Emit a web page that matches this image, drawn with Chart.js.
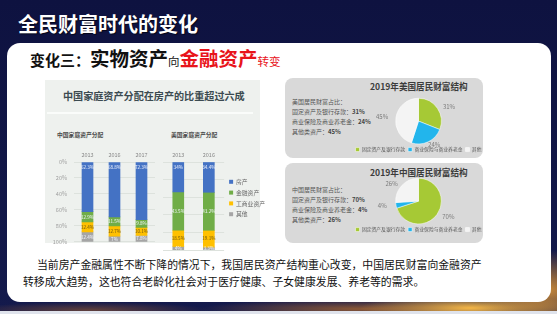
<!DOCTYPE html>
<html>
<head>
<meta charset="utf-8">
<script src="https://cdn.jsdelivr.net/npm/chart.js@4/dist/chart.umd.min.js"></script>
<style>
  body { margin: 0; width: 557px; height: 314px; overflow: hidden; position: relative;
    font-family: "Noto Sans CJK SC", sans-serif;
    background:
      radial-gradient(ellipse 70px 40px at 548px 290px, rgba(255,170,50,0.75), rgba(255,170,50,0) 100%),
      radial-gradient(ellipse 110px 14px at 470px 308px, rgba(255,190,70,0.95), rgba(255,150,40,0) 100%),
      radial-gradient(ellipse 160px 10px at 360px 309px, rgba(220,130,40,0.6), rgba(220,130,40,0) 100%),
      radial-gradient(ellipse 120px 8px at 90px 310px, rgba(190,110,40,0.45), rgba(190,110,40,0) 100%),
      linear-gradient(#0e1240, #141a4c);
  }
  .abs { position: absolute; }
  #strip { left: 0; top: 311px; width: 557px; height: 3px; background: #dfe3ec; }
  #title { left: 18px; top: 13px; font-size: 20px; line-height: 22px; font-weight: bold; color: #fff;
    text-shadow: 1px 1px 1px rgba(0,0,0,0.6); }
  #panel { left: 7px; top: 43px; width: 544px; height: 259px; background: #fff; border-radius: 13px; }
  #sub { left: 30px; top: 47px; white-space: nowrap; line-height: 22px; font-weight: bold; color: #111; }
  #sub .a { font-size: 15px; }
  #sub .b { font-size: 19.5px; }
  #sub .c { font-size: 11.5px; font-weight: normal; }
  #sub .r { color: #e8141b; }
  #pic { left: 45px; top: 80px; width: 215px; height: 163px; background: #eef1ee; }
  #picTitle { left: 63px; top: 89px; font-size: 10.1px; line-height: 14px; font-weight: bold; color: #3b4a50; white-space: nowrap; }
  #rule { left: 47px; top: 112px; width: 206px; height: 2px; background: #fafcfa; }
  .grp { font-size: 5.8px; line-height: 8px; font-weight: bold; color: #4a4a4a; white-space: nowrap; }
  .box { width: 198px; height: 80px; background: #d9d9d9; border-radius: 8px; left: 285px; }
  .boxTitle { font-size: 8.6px; line-height: 10px; font-weight: bold; color: #3c3c3c; white-space: nowrap; }
  .boxText { font-size: 6px; line-height: 10px; color: #555; white-space: nowrap; }
  .boxText b { color: #444; }
  #note { left: 23px; top: 256px; font-size: 10.85px; line-height: 17px; color: #111; white-space: nowrap; }
</style>
</head>
<body>
<div class="abs" id="strip"></div>
<div class="abs" id="title">全民财富时代的变化</div>
<div class="abs" id="panel"></div>
<div class="abs" id="sub"><span class="a">变化三：</span><span class="b">实物资产</span><span class="c">向</span><span class="b r">金融资产</span><span class="c r">转变</span></div>

<div class="abs" id="pic"></div>
<div class="abs" id="picTitle">中国家庭资产分配在房产的比重超过六成</div>
<div class="abs" id="rule"></div>
<div class="abs grp" style="left:57px; top:131px;">中国家庭资产分配</div>
<div class="abs grp" style="left:171px; top:131px;">美国家庭资产分配</div>
<canvas class="abs" id="cnBars" width="105" height="106" style="left:50px; top:146px;"></canvas>
<canvas class="abs" id="usBars" width="120" height="106" style="left:155px; top:146px;"></canvas>

<div class="abs box" style="top:78px;"></div>
<div class="abs boxTitle" style="left:370px; top:81px;">2019年美国居民财富结构</div>
<div class="abs boxText" style="left:292px; top:97px;">美国居民财富占比：<br>固定资产及银行存款：<b>31%</b><br>商业保险及商业养老金：<b>24%</b><br>其他类资产：<b>45%</b></div>
<canvas class="abs" id="usPie" width="133" height="66" style="left:352px; top:96px;"></canvas>

<div class="abs box" style="top:163px;"></div>
<div class="abs boxTitle" style="left:370px; top:167px;">2019年中国居民财富结构</div>
<div class="abs boxText" style="left:292px; top:185px;">中国居民财富占比：<br>固定资产及银行存款：<b>70%</b><br>商业保险及商业养老金：<b>4%</b><br>其他类资产：<b>26%</b></div>
<canvas class="abs" id="cnPie" width="133" height="66" style="left:352px; top:176px;"></canvas>

<div class="abs" id="note"><span style="padding-left:14px;"></span>当前房产金融属性不断下降的情况下，我国居民资产结构重心改变，中国居民财富向金融资产<br>转移成大趋势，这也符合老龄化社会对于医疗健康、子女健康发展、养老等的需求。</div>

<script>
const font = '"Noto Sans CJK SC", sans-serif'

// stacked bars: share of household assets (%)
const assetTypes = ['房产', '金融资产', '工商业资产', '其他']
const cnYears = ['2013', '2016', '2017']
const usYears = ['2013', '2016']
const cnHouse = [62.3, 68.8, 72.3]
const cnFinance = [12.9, 11.5, 9.8]
const cnBusiness = [12.4, 12.7, 10.1]
const cnOther = [12.4, 7, 7.8]
const usHouse = [34, 34.4]
const usFinance = [43.5, 43.2]
const usBusiness = [18.5, 19.1]
const usOther = [4, 3.3]
const yTicks = [0, 20, 40, 60, 80, 100]

// pies: 2019 household wealth structure (%)
const pieLabels = ['固定资产及银行存款', '商业保险与商业养老金', '其他']
const usShares = [31, 24, 45]
const cnShares = [70, 4, 26]

const barColors = ['#4472c4', '#70ad47', '#ffc000', '#a5a5a5']
const pieColors = ['#a6c935', '#22b5ec', '#f4f4f4']

const barText = {
    id: 'barText',
    afterDatasetsDraw(chart) {
        const ctx = chart.ctx
        ctx.save()
        ctx.font = '4.6px ' + font
        ctx.textAlign = 'center'
        ctx.textBaseline = 'middle'
        chart.data.datasets.forEach((ds, i) => {
            chart.getDatasetMeta(i).data.forEach((bar, j) => {
                let top = Math.min(bar.y, bar.base)
                let bottom = Math.max(bar.y, bar.base)
                let y = i === 0 ? top + 5 : (top + bottom) / 2
                ctx.fillStyle = i === 2 ? '#6b5510' : '#f4f6ff'
                ctx.fillText(ds.data[j] + '%', bar.x, y)
            })
        })
        ctx.restore()
    }
}

// percentage labels outside the slices, pushed further out sideways than up/down
const pieText = {
    id: 'pieText',
    afterDatasetsDraw(chart) {
        const ctx = chart.ctx
        ctx.save()
        ctx.font = '6px ' + font
        ctx.fillStyle = '#7a7a7a'
        ctx.textAlign = 'center'
        ctx.textBaseline = 'middle'
        let ds = chart.data.datasets[0]
        chart.getDatasetMeta(0).data.forEach((arc, i) => {
            let mid = (arc.startAngle + arc.endAngle) / 2
            let r = arc.outerRadius
            ctx.fillText(ds.data[i] + '%', arc.x + Math.cos(mid) * (r + 14), arc.y + Math.sin(mid) * (r + 3))
        })
        ctx.restore()
    }
}

function barSets(series) {
    return assetTypes.map((t, i) => ({
        label: t,
        data: series[i],
        backgroundColor: barColors[i],
        barThickness: 11,
    }))
}

function barScales(yWidth) {
    return {
        x: {
            stacked: true,
            position: 'top',
            grid: { display: false, drawTicks: false },
            border: { display: false },
            ticks: { font: { size: 5.5, family: font }, color: '#888', padding: 4 },
            afterFit: s => { s.height = 16 },
        },
        y: {
            stacked: true,
            reverse: true,
            min: 0,
            max: 100,
            afterBuildTicks: s => { s.ticks = yTicks.map(v => ({ value: v })) },
            ticks: { display: yWidth > 0, callback: v => v + '%', font: { size: 5.5, family: font }, color: '#a0a0a0', padding: 7 },
            grid: { color: '#dde2dd', drawTicks: false },
            border: { display: false },
            afterFit: s => { s.width = yWidth },
        },
    }
}

new Chart(document.getElementById('cnBars'), {
    type: 'bar',
    data: { labels: cnYears, datasets: barSets([cnHouse, cnFinance, cnBusiness, cnOther]) },
    options: {
        responsive: false,
        animation: false,
        layout: { padding: { bottom: 2 } },
        plugins: { legend: { display: false }, tooltip: { enabled: false } },
        scales: barScales(24),
    },
    plugins: [barText],
})

new Chart(document.getElementById('usBars'), {
    type: 'bar',
    data: { labels: usYears, datasets: barSets([usHouse, usFinance, usBusiness, usOther]) },
    options: {
        responsive: false,
        animation: false,
        layout: { padding: { bottom: 2, left: 8 } },
        plugins: {
            legend: {
                position: 'right',
                maxWidth: 60,
                labels: { boxWidth: 4, boxHeight: 4, padding: 5, font: { size: 5.8, family: font }, color: '#666' },
            },
            tooltip: { enabled: false },
        },
        scales: barScales(0),
    },
    plugins: [barText],
})

function drawPie(id, shares) {
    new Chart(document.getElementById(id), {
        type: 'pie',
        data: {
            labels: pieLabels,
            datasets: [{ data: shares, backgroundColor: pieColors, borderColor: '#ffffff', borderWidth: 0.5 }],
        },
        options: {
            responsive: false,
            animation: false,
            layout: { padding: { top: 2 } },
            plugins: {
                legend: {
                    position: 'bottom',
                    labels: { boxWidth: 4, boxHeight: 4, padding: 3, font: { size: 4.8, family: font }, color: '#555' },
                },
                tooltip: { enabled: false },
            },
        },
        plugins: [pieText],
    })
}

drawPie('usPie', usShares)
drawPie('cnPie', cnShares)
</script>
</body>
</html>
